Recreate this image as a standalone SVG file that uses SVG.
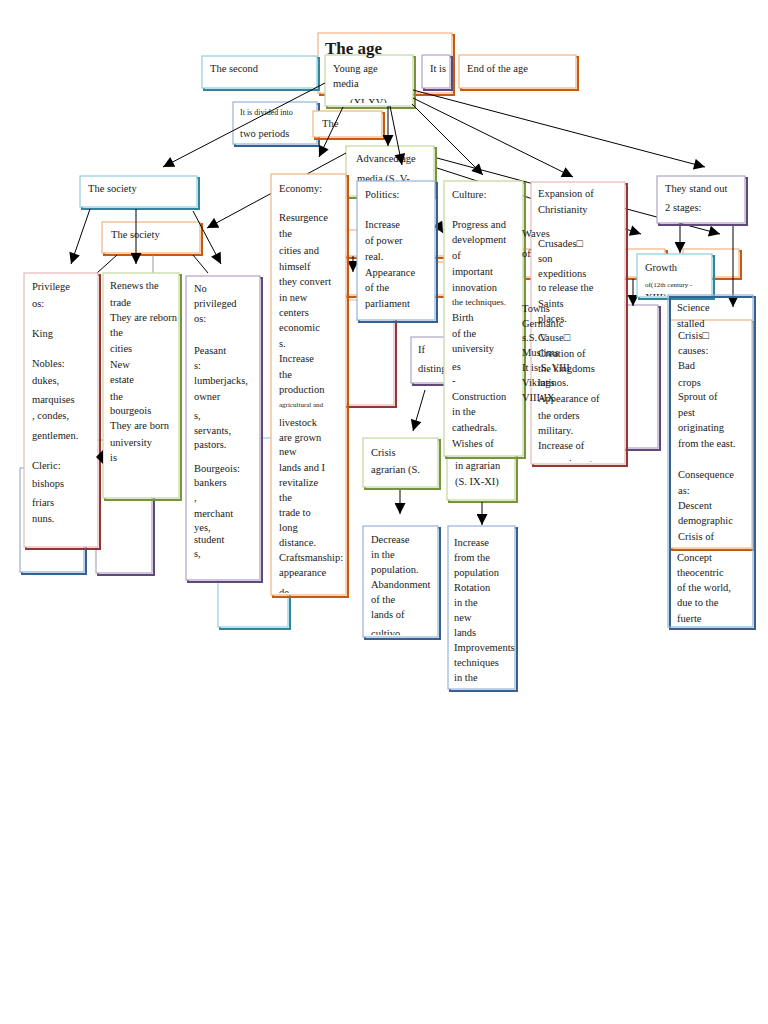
<svg xmlns="http://www.w3.org/2000/svg" width="768" height="1024" viewBox="0 0 768 1024">
<style>
.bx{fill:#fff;stroke-width:1.2}
.bxn{fill:none;stroke-width:1.2}
.sh{fill:none;stroke-width:2}
.o>.bx,.o>.bxn{stroke:#f4b183}.o>.sh{stroke:#c55a11}
.c>.bx,.c>.bxn{stroke:#92cddc}.c>.sh{stroke:#31859c}
.g>.bx,.g>.bxn{stroke:#c3d69b}.g>.sh{stroke:#77933c}
.p>.bx,.p>.bxn{stroke:#b3a2c7}.p>.sh{stroke:#5f497a}
.r>.bx,.r>.bxn{stroke:#e6b9b8}.r>.sh{stroke:#943634}
.b>.bx,.b>.bxn{stroke:#95b3d7}.b>.sh{stroke:#376092}
text{font-family:"Liberation Serif","Times New Roman",serif;font-size:10.5px;fill:#1a1a1a}
.s8{font-size:8px}.s7{font-size:7px}.s9{font-size:9px}
.ttl{font-size:17px;font-weight:bold}
.ln{stroke:#000;stroke-width:1;fill:none}
.lg{stroke:#999;stroke-width:1;fill:none}
</style>
<defs>
<marker id="ah" viewBox="0 0 10 10" refX="10" refY="5" markerWidth="12" markerHeight="11" markerUnits="userSpaceOnUse" orient="auto"><path d="M0,0 L10,5 L0,10 z" fill="#000"/></marker>
<clipPath id="cpY"><rect x="326" y="56" width="86" height="47"/></clipPath>
<clipPath id="cpE"><rect x="272" y="175" width="74" height="418"/></clipPath>
<clipPath id="cpD"><rect x="364" y="527" width="73" height="108"/></clipPath>
<clipPath id="cpX"><rect x="532" y="183" width="92" height="279"/></clipPath>
<clipPath id="cpG"><rect x="638" y="255" width="74" height="41"/></clipPath>
</defs>

<!-- background (partly hidden) boxes -->
<g id="bg-blue" class="b"><rect class="sh" x="22" y="470" width="64" height="104"/><rect class="bx" x="20" y="468" width="64" height="104"/></g>
<g id="bg-purple" class="p"><rect class="sh" x="98" y="442" width="56" height="133"/><rect class="bx" x="96" y="440" width="56" height="133"/></g>
<g id="bg-cyan" class="c"><rect class="sh" x="220" y="440" width="70" height="189"/><rect class="bx" x="218" y="438" width="70" height="189"/></g>
<g id="bg-orange1" class="o"><rect class="sh" x="347" y="232" width="100" height="26"/><rect class="bx" x="345" y="230" width="100" height="26"/></g>
<g id="bg-orange2" class="o"><rect class="sh" x="347" y="264" width="100" height="33"/><rect class="bx" x="345" y="262" width="100" height="33"/></g>
<g id="bg-maroon" class="r"><rect class="sh" x="347" y="302" width="49" height="105"/><rect class="bx" x="345" y="300" width="49" height="105"/></g>
<g id="bg-agrarian" class="g"><rect class="sh" x="449" y="422" width="68" height="80"/><rect class="bx" x="447" y="420" width="68" height="80"/>
<text x="455" y="469">in agrarian</text><text x="455" y="485">(S. IX-XI)</text></g>
<g id="bg-purple2" class="p"><rect class="sh" x="562" y="307" width="98" height="143"/><rect class="bx" x="560" y="305" width="98" height="143"/></g>
<g id="bg-orange3" class="o"><rect class="sh" x="525" y="251" width="142" height="28"/><rect class="bx" x="523" y="249" width="142" height="28"/></g>
<g id="bg-orange4" class="o"><rect class="sh" x="685" y="251" width="56" height="28"/><rect class="bx" x="683" y="249" width="56" height="28"/></g>
<g id="n-if" class="p"><rect class="sh" x="413" y="339" width="50" height="46"/><rect class="bx" x="411" y="337" width="50" height="46"/>
<text x="418" y="353">If</text><text x="418" y="372">distinguish</text></g>

<!-- top nodes -->
<g id="n-age" class="o"><rect class="sh" x="320" y="35" width="134" height="60"/><rect class="bx" x="318" y="33" width="134" height="60"/></g>
<g id="n-second" class="c"><rect class="sh" x="204" y="58" width="115" height="32"/><rect class="bx" x="202" y="56" width="115" height="32"/>
<text x="210" y="72">The second</text></g>
<g id="n-young" class="g"><rect class="sh" x="327" y="57" width="88" height="51"/><rect class="bx" x="325" y="55" width="88" height="51"/>
<text x="333" y="72">Young age</text><text x="333" y="87">media</text><text x="350" y="106" clip-path="url(#cpY)">(XI-XV)</text></g>
<text id="t-age" class="ttl" x="325" y="54">The age</text>
<g id="n-itis" class="p"><rect class="sh" x="424" y="57" width="28" height="33"/><rect class="bx" x="422" y="55" width="28" height="33"/>
<text x="430" y="72">It is</text></g>
<g id="n-end" class="o"><rect class="sh" x="461" y="57" width="117" height="33"/><rect class="bx" x="459" y="55" width="117" height="33"/>
<text x="467" y="72">End of the age</text></g>
<g id="n-divided" class="b"><rect class="sh" x="235" y="104" width="84" height="42"/><rect class="bx" x="233" y="102" width="84" height="42"/>
<text class="s8" x="240" y="115">It is divided into</text><text x="240" y="137">two periods</text></g>
<g id="n-the" class="o"><rect class="sh" x="315" y="113" width="69" height="26"/><rect class="bx" x="313" y="111" width="69" height="26"/>
<text x="322" y="127">The</text></g>
<g id="n-advanced" class="g"><rect class="sh" x="348" y="148" width="88" height="50"/><rect class="bx" x="346" y="146" width="88" height="50"/>
<text x="356" y="162">Advanced age</text><text x="357" y="182">media (S. V-</text></g>
<g id="n-society1" class="c"><rect class="sh" x="82" y="178" width="117" height="31"/><rect class="bx" x="80" y="176" width="117" height="31"/>
<text x="88" y="192">The society</text></g>
<g id="n-society2" class="o"><rect class="sh" x="104" y="224" width="98" height="31"/><rect class="bx" x="102" y="222" width="98" height="31"/>
<text x="111" y="238">The society</text></g>

<!-- connectors -->
<g id="connectors">
<path class="ln" d="M325,83 L163,167" marker-end="url(#ah)"/>
<path class="ln" d="M343,107 L319,157" marker-end="url(#ah)"/>
<path class="ln" d="M388,106 L388,146" marker-end="url(#ah)"/>
<path class="ln" d="M390,106 L402,165" marker-end="url(#ah)"/>
<path class="ln" d="M412,104 L483,175" marker-end="url(#ah)"/>
<path class="ln" d="M413,98 L573,177" marker-end="url(#ah)"/>
<path class="ln" d="M413,90 L705,167" marker-end="url(#ah)"/>
<path class="ln" d="M346,153 L207,228" marker-end="url(#ah)"/>
<path class="ln" d="M437,158 L720,234" marker-end="url(#ah)"/>
<path class="ln" d="M437,168 L641,234" marker-end="url(#ah)"/>
<path class="ln" d="M90,209 L71,264" marker-end="url(#ah)"/>
<path class="ln" d="M136,209 L136,264" marker-end="url(#ah)"/>
<path class="ln" d="M193,211 L221,264" marker-end="url(#ah)"/>
<path class="ln" d="M117,255 L97,273"/>
<path class="lg" d="M153,255 L153,273"/>
<path class="ln" d="M193,255 L208,273"/>
<path class="ln" d="M680,226 L680,253" marker-end="url(#ah)"/>
<path class="ln" d="M733,226 L733,307" marker-end="url(#ah)"/>
<path class="ln" d="M633,279 L633,306" marker-end="url(#ah)"/>
<path class="ln" d="M353,256 L353,272" marker-end="url(#ah)"/>
<path class="ln" d="M436,221 L443,233" marker-end="url(#ah)"/>
<path class="ln" d="M425,390 L413,431" marker-end="url(#ah)"/>
<path class="ln" d="M400,489 L400,514" marker-end="url(#ah)"/>
<path class="ln" d="M482,502 L482,525" marker-end="url(#ah)"/>
</g>

<!-- front nodes -->
<g id="n-privileged" class="r"><rect class="sh" x="26" y="275" width="74" height="274"/><rect class="bx" x="24" y="273" width="74" height="274"/>
<text x="32" y="290">Privilege</text><text x="32" y="307">os:</text><text x="32" y="337">King</text>
<text x="32" y="367">Nobles:</text><text x="32" y="384">dukes,</text><text x="32" y="403">marquises</text><text x="32" y="419">, condes,</text><text x="32" y="439">gentlemen.</text>
<text x="32" y="469">Cleric:</text><text x="32" y="487">bishops</text><text x="32" y="506">friars</text><text x="32" y="522">nuns.</text></g>
<g id="n-renews" class="g"><rect class="sh" x="105" y="275" width="76" height="225"/><rect class="bx" x="103" y="273" width="76" height="225"/>
<text x="110" y="289">Renews the</text><text x="110" y="306">trade</text><text x="110" y="321">They are reborn</text><text x="110" y="336">the</text>
<text x="110" y="352">cities</text><text x="110" y="368">New</text><text x="110" y="383">estate</text><text x="110" y="400">the</text>
<text x="110" y="414">bourgeois</text><text x="110" y="429">They are born</text><text x="110" y="446">university</text><text x="110" y="461">is</text></g>
<path id="half-arrow" d="M96,457 L103,450 L103,464 z" fill="#000"/>
<g id="n-nonprivileged" class="p"><rect class="sh" x="188" y="278" width="74" height="304"/><rect class="bx" x="186" y="276" width="74" height="304"/>
<text x="194" y="292">No</text><text x="194" y="307">privileged</text><text x="194" y="322">os:</text>
<text x="194" y="354">Peasant</text><text x="194" y="369">s:</text><text x="194" y="384">lumberjacks,</text><text x="194" y="400">owner</text>
<text x="194" y="419">s,</text><text x="194" y="434">servants,</text><text x="194" y="448">pastors.</text>
<text x="194" y="472">Bourgeois:</text><text x="194" y="486">bankers</text><text x="194" y="501">,</text><text x="194" y="517">merchant</text>
<text x="194" y="531">yes,</text><text x="194" y="543">student</text><text x="194" y="557">s,</text></g>
<g id="n-economy" class="o"><rect class="sh" x="273" y="176" width="75" height="421"/><rect class="bx" x="271" y="174" width="75" height="421"/>
<text x="279" y="192">Economy:</text><text x="279" y="221">Resurgence</text><text x="279" y="237">the</text><text x="279" y="254">cities and</text>
<text x="279" y="270">himself</text><text x="279" y="285">they convert</text><text x="279" y="301">in new</text><text x="279" y="316">centers</text>
<text x="279" y="331">economic</text><text x="279" y="347">s.</text><text x="279" y="362">Increase</text><text x="279" y="378">the</text>
<text x="279" y="393">production</text><text class="s7" x="279" y="407">agricultural and</text><text x="279" y="426">livestock</text>
<text x="279" y="441">are grown</text><text x="279" y="455">new</text><text x="279" y="471">lands and I</text><text x="279" y="486">revitalize</text>
<text x="279" y="501">the</text><text x="279" y="516">trade to</text><text x="279" y="531">long</text><text x="279" y="546">distance.</text>
<text x="279" y="561">Craftsmanship:</text><text x="279" y="576">appearance</text><text x="279" y="596" clip-path="url(#cpE)">de</text></g>
<g id="n-politics" class="b"><rect class="sh" x="359" y="183" width="78" height="139"/><rect class="bx" x="357" y="181" width="78" height="139"/>
<text x="365" y="198">Politics:</text><text x="365" y="228">Increase</text><text x="365" y="244">of power</text><text x="365" y="260">real.</text>
<text x="365" y="276">Appearance</text><text x="365" y="291">of the</text><text x="365" y="307">parliament</text></g>
<g id="n-culture" class="g"><rect class="sh" x="446" y="183" width="79" height="275"/><rect class="bx" x="444" y="181" width="79" height="275"/>
<text x="452" y="198">Culture:</text><text x="452" y="228">Progress and</text><text x="452" y="243">development</text><text x="452" y="259">of</text>
<text x="452" y="275">important</text><text x="452" y="291">innovation</text><text class="s9" x="452" y="305">the techniques.</text>
<text x="452" y="321">Birth</text><text x="452" y="337">of the</text><text x="452" y="352">university</text><text x="452" y="370">es</text>
<text x="452" y="384">-</text><text x="452" y="400">Construction</text><text x="452" y="415">in the</text><text x="452" y="431">cathedrals.</text><text x="452" y="447">Wishes of</text></g>
<g id="n-crisis-agrarian" class="g"><rect class="sh" x="365" y="440" width="75" height="49"/><rect class="bx" x="363" y="438" width="75" height="49"/>
<text x="371" y="456">Crisis</text><text x="371" y="473">agrarian (S.</text></g>
<g id="n-decrease" class="b"><rect class="sh" x="365" y="528" width="75" height="111"/><rect class="bx" x="363" y="526" width="75" height="111"/>
<text x="371" y="543">Decrease</text><text x="371" y="558">in the</text><text x="371" y="573">population.</text><text x="371" y="588">Abandonment</text>
<text x="371" y="603">of the</text><text x="371" y="618">lands of</text><text x="371" y="637" clip-path="url(#cpD)">cultivo</text></g>
<g id="n-increase" class="b"><rect class="sh" x="450" y="528" width="67" height="163"/><rect class="bx" x="448" y="526" width="67" height="163"/>
<text x="454" y="546">Increase</text><text x="454" y="561">from the</text><text x="454" y="576">population</text><text x="454" y="591">Rotation</text>
<text x="454" y="606">in the</text><text x="454" y="621">new</text><text x="454" y="636">lands</text><text x="454" y="651">Improvements</text>
<text x="454" y="666">techniques</text><text x="454" y="681">in the</text></g>
<g id="n-expansion" class="r"><rect class="sh" x="533" y="184" width="94" height="282"/><rect class="bx" x="531" y="182" width="94" height="282"/>
<text x="538" y="197">Expansion of</text><text x="538" y="213">Christianity</text><text x="538" y="247">Crusades□</text><text x="538" y="262">son</text>
<text x="538" y="277">expeditions</text><text x="538" y="291">to release the</text><text x="538" y="307">Saints</text><text x="538" y="322">places.</text>
<text x="538" y="341">Cause□</text><text x="538" y="357">Creation of</text><text x="538" y="372">the kingdoms</text><text x="538" y="386">latinos.</text>
<text x="538" y="402">Appearance of</text><text x="538" y="419">the orders</text><text x="538" y="434">military.</text><text x="538" y="449">Increase of</text>
<text x="538" y="467" clip-path="url(#cpX)">comercio entre</text></g>
<g id="n-waves">
<text x="522" y="237">Waves</text><text x="522" y="257">of</text><text x="522" y="312">Towns</text><text x="522" y="327">Germanic</text>
<text x="522" y="341">s.S. V</text><text x="522" y="356">Muslims</text><text x="522" y="371">It is S. VIII</text><text x="522" y="386">Vikings</text><text x="522" y="401">VIII-IX</text></g>
<g id="n-standout" class="p"><rect class="sh" x="659" y="178" width="88" height="47"/><rect class="bx" x="657" y="176" width="88" height="47"/>
<text x="665" y="192">They stand out</text><text x="665" y="211">2 stages:</text></g>
<g id="n-growth" class="c"><rect class="sh" x="639" y="256" width="75" height="43"/><rect class="bx" x="637" y="254" width="75" height="43"/>
<text x="645" y="271">Growth</text><text class="s7" x="645" y="287">of(12th century -</text><text x="645" y="301" clip-path="url(#cpG)">XIII)</text></g>
<g id="n-crisis" class="o"><rect class="sh" x="672" y="322" width="82" height="228"/><rect class="bx" x="670" y="320" width="82" height="228"/>
<text x="678" y="339">Crisis□</text><text x="678" y="354">causes:</text><text x="678" y="369">Bad</text><text x="678" y="386">crops</text>
<text x="678" y="400">Sprout of</text><text x="678" y="416">pest</text><text x="678" y="431">originating</text><text x="678" y="447">from the east.</text>
<text x="678" y="478">Consequence</text><text x="678" y="494">as:</text><text x="678" y="509">Descent</text><text x="678" y="524">demographic</text><text x="678" y="540">Crisis of</text></g>
<g id="n-science" class="b"><rect class="sh" x="670" y="297" width="85" height="332"/><rect class="bxn" x="668" y="295" width="85" height="332"/>
<text x="677" y="311">Science</text><text x="677" y="327">stalled</text>
<text x="677" y="561">Concept</text><text x="677" y="576">theocentric</text><text x="677" y="591">of the world,</text><text x="677" y="606">due to the</text><text x="677" y="622">fuerte</text></g>
</svg>
